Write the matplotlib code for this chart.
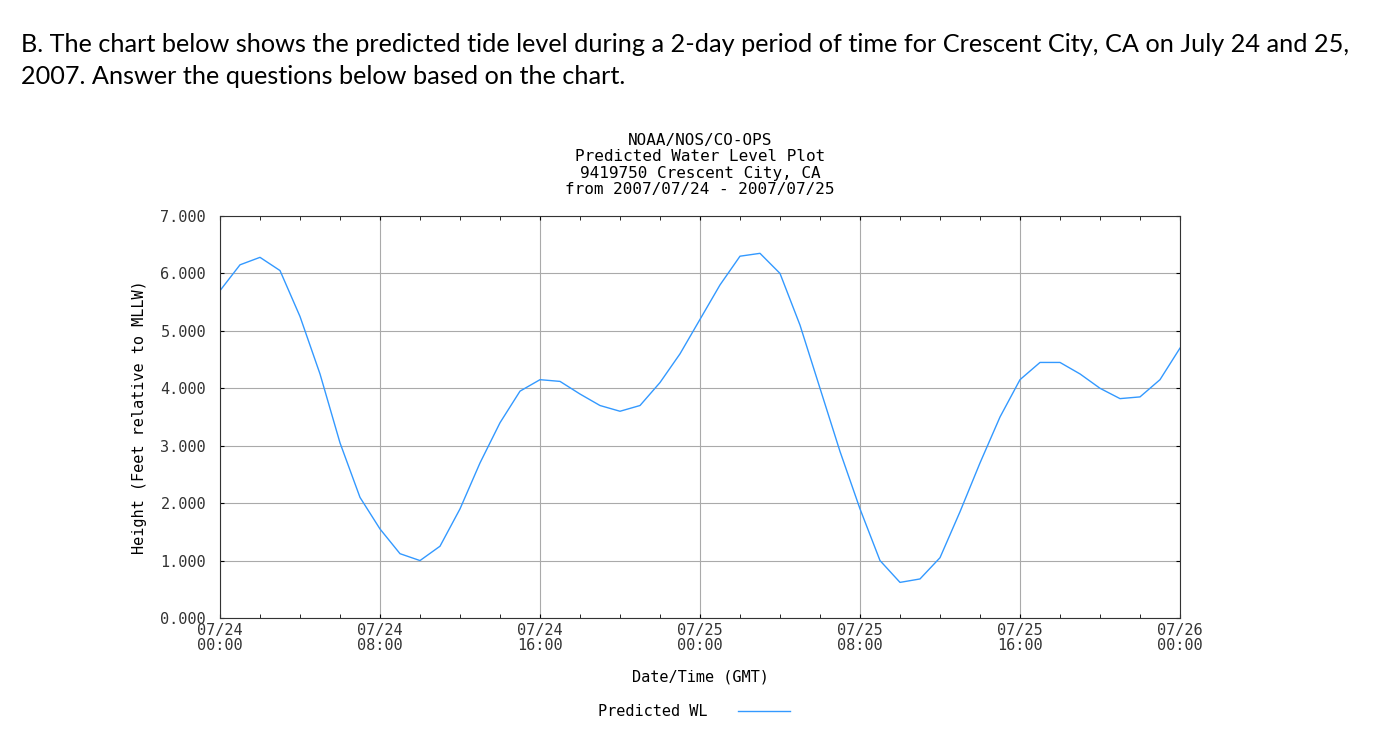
import matplotlib
matplotlib.use("Agg")
import matplotlib.pyplot as plt

hours = list(range(49))
level = [5.70, 6.15, 6.28, 6.05, 5.25, 4.25, 3.05, 2.10, 1.55, 1.12, 1.00, 1.25, 1.90, 2.70,
         3.40, 3.95, 4.15, 4.12, 3.90, 3.70, 3.60, 3.70, 4.10, 4.60, 5.20, 5.80, 6.30, 6.35,
         6.00, 5.10, 4.00, 2.90, 1.90, 1.00, 0.62, 0.68, 1.05, 1.85, 2.70, 3.50, 4.15, 4.45,
         4.45, 4.25, 4.00, 3.82, 3.85, 4.15, 4.70]
xtick_labels = ["07/24\n00:00", "07/24\n08:00", "07/24\n16:00", "07/25\n00:00",
                "07/25\n08:00", "07/25\n16:00", "07/26\n00:00"]
ytick_labels = ["0.000", "1.000", "2.000", "3.000", "4.000", "5.000", "6.000", "7.000"]

mono = "DejaVu Sans Mono"
fig = plt.figure(figsize=(13.92, 7.44), dpi=100)
fig.text(0.015, 0.94, "B. The chart below shows the predicted tide level during a 2-day period of time for Crescent City, CA on July 24 and 25,",
         family="Lato", fontsize=18.2, va="center")
fig.text(0.015, 0.897, "2007. Answer the questions below based on the chart.",
         family="Lato", fontsize=18.2, va="center")

ax = fig.add_axes([220/1392, 1-618/744, 960/1392, 402/744])
ax.plot(hours, level, color="#3399ff", lw=1)
ax.set_xlim(0, 48)
ax.set_ylim(0, 7)
ax.set_xticks(range(0, 49, 8))
ax.set_xticklabels(xtick_labels, family=mono, fontsize=11, color="#333", linespacing=1.0)
ax.set_xticks(range(0, 49, 2), minor=True)
ax.set_yticks(range(8))
ax.set_yticklabels(ytick_labels, family=mono, fontsize=11, color="#333")
ax.grid(True, color="#aaaaaa", lw=0.8)
ax.tick_params(which="both", direction="in", top=True, right=True, length=3)
ax.tick_params(axis="y", pad=10)
for s in ax.spines.values():
    s.set_color("#333")
ax.set_xlabel("Date/Time (GMT)", family=mono, fontsize=11, labelpad=12)
ax.set_ylabel("Height (Feet relative to MLLW)", family=mono, fontsize=11, labelpad=10)
ax.set_title("NOAA/NOS/CO-OPS\nPredicted Water Level Plot\n9419750 Crescent City, CA\nfrom 2007/07/24 - 2007/07/25",
             family=mono, fontsize=11.5, linespacing=1.1, pad=16)

fig.text(598/1392, 1-711/744, "Predicted WL", family=mono, fontsize=11, va="center")
fig.add_artist(plt.Line2D([738/1392, 790/1392], [1-711/744]*2, color="#3399ff", lw=1))
fig.savefig("out.png", dpi=100)
